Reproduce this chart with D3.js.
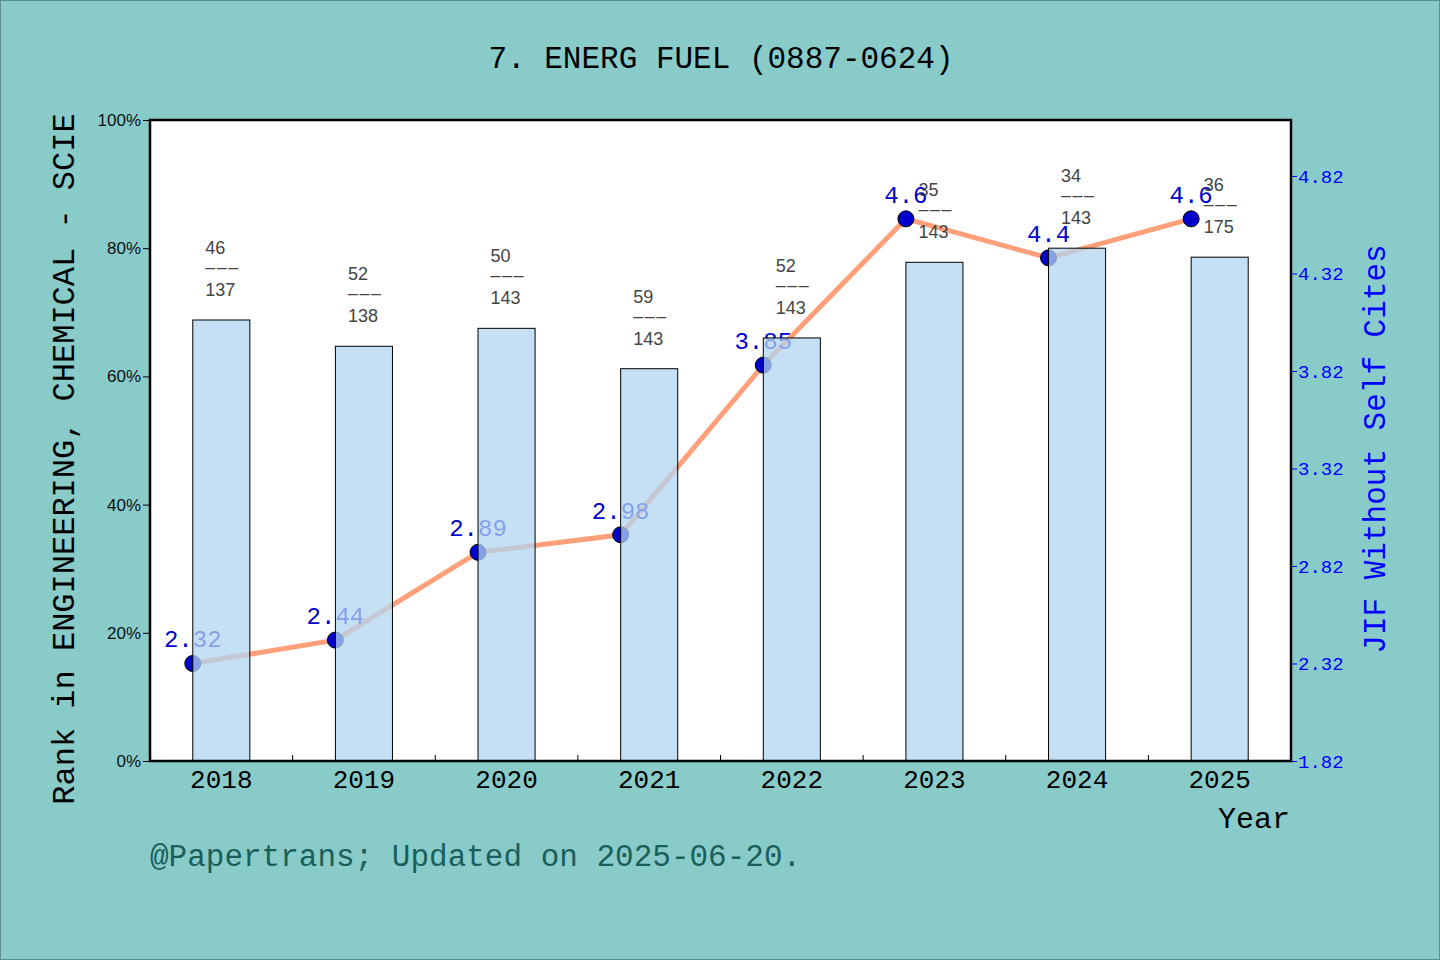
<!DOCTYPE html>
<html>
<head>
<meta charset="utf-8">
<script src="https://cdn.jsdelivr.net/npm/d3@7"></script>
<style>
  body { margin: 0; background: #88cbc9; }
  svg { display: block; }
</style>
</head>
<body>
<svg id="viz"></svg>
<script>
// ---------------------------
// Data
// ---------------------------

const years = ["2018", "2019", "2020", "2021", "2022", "2023", "2024", "2025"];
const rankPct = [68.8, 64.7, 67.5, 61.2, 66.0, 77.8, 80.0, 78.6];
const rankNum = [46, 52, 50, 59, 52, 35, 34, 36];
const rankTotal = [137, 138, 143, 143, 143, 143, 143, 175];
const jif = [2.32, 2.44, 2.89, 2.98, 3.85, 4.6, 4.4, 4.6];
const leftTicks = [0, 20, 40, 60, 80, 100];
const rightTicks = [1.82, 2.32, 2.82, 3.32, 3.82, 4.32, 4.82];

// ---------------------------
// Create SVG
// ---------------------------

const width = 1440;
const height = 960;
const mono = "'Liberation Mono', 'DejaVu Sans Mono', monospace";
const sans = "'Liberation Sans', Arial, sans-serif";

const svg = d3.select("#viz")
    .attr("width", width)
    .attr("height", height);

svg.append("rect")
    .attr("width", width).attr("height", height)
    .attr("fill", "#88cbc9")
    .attr("stroke", "#5a8f8d").attr("stroke-width", 2);

const plot = {left: 150, right: 1291, top: 120, bottom: 761};

const x = d3.scaleBand()
    .domain(years)
    .range([plot.left, plot.right])
    .paddingInner(0.6)
    .paddingOuter(0.3);

const yL = d3.scaleLinear().domain([0, 100]).range([plot.bottom, plot.top]);
const yR = d3.scaleLinear().domain([1.82, 5.107]).range([plot.bottom, plot.top]);

svg.append("rect")
    .attr("x", plot.left).attr("y", plot.top)
    .attr("width", plot.right - plot.left)
    .attr("height", plot.bottom - plot.top)
    .attr("fill", "white");

// ---------------------------
// Line + markers + labels (under bars)
// ---------------------------

const pts = years.map((d, i) => ({year: d, v: jif[i]}));

svg.append("path")
    .datum(pts)
    .attr("fill", "none")
    .attr("stroke", "#ffa07a")
    .attr("stroke-width", 5)
    .attr("d", d3.line().x(d => x(d.year)).y(d => yR(d.v)));

svg.selectAll(".dot")
    .data(pts)
    .join("circle")
    .attr("cx", d => x(d.year))
    .attr("cy", d => yR(d.v))
    .attr("r", 8)
    .attr("fill", "#0000cd")
    .attr("stroke", "black")
    .attr("stroke-width", 1);

svg.selectAll(".jifLabel")
    .data(pts)
    .join("text")
    .attr("x", d => x(d.year))
    .attr("y", d => yR(d.v) - 16)
    .attr("text-anchor", "middle")
    .attr("font-family", mono)
    .attr("font-size", 24)
    .attr("fill", "#0000cd")
    .text(d => String(d.v));

// ---------------------------
// Bars
// ---------------------------

svg.selectAll(".bar")
    .data(years)
    .join("rect")
    .attr("x", d => x(d))
    .attr("y", (d, i) => yL(rankPct[i]))
    .attr("width", x.bandwidth())
    .attr("height", (d, i) => yL(0) - yL(rankPct[i]))
    .attr("fill", "rgba(178,214,242,0.75)")
    .attr("stroke", "black")
    .attr("stroke-width", 1);

const lab = svg.selectAll(".rankLabel")
    .data(years)
    .join("g")
    .attr("transform", (d, i) => `translate(${x(d) + x.bandwidth() / 2 - 16},${yL(rankPct[i])})`)
    .attr("font-family", sans)
    .attr("font-size", 18)
    .attr("fill", "#444");

lab.append("text").attr("y", -66).text((d, i) => rankNum[i]);
lab.append("text").attr("y", -47).attr("letter-spacing", 1.5).text("–––");
lab.append("text").attr("y", -24).text((d, i) => rankTotal[i]);

// ---------------------------
// Axes
// ---------------------------

// left
const gL = svg.append("g")
    .attr("transform", `translate(${plot.left},0)`)
    .call(d3.axisLeft(yL).tickValues(leftTicks).tickFormat(d => d + "%").tickSize(7).tickPadding(2));
gL.select(".domain").remove();
gL.selectAll("text").attr("font-family", sans).attr("font-size", 17).attr("fill", "#111");

// right
const gR = svg.append("g")
    .attr("transform", `translate(${plot.right},0)`)
    .call(d3.axisRight(yR).tickValues(rightTicks).tickFormat(d3.format(".2f")).tickSize(6).tickPadding(1));
gR.select(".domain").remove();
gR.selectAll("line").attr("stroke", "#0000ff");
gR.selectAll("text").attr("font-family", mono).attr("font-size", 19).attr("fill", "#0000ff");

// bottom: boundary ticks inside, year labels at band centres
const bounds = d3.range(1, years.length).map(i => plot.left + i * x.step());
svg.selectAll(".xtick")
    .data(bounds)
    .join("line")
    .attr("x1", d => d).attr("x2", d => d)
    .attr("y1", plot.bottom).attr("y2", plot.bottom - 6)
    .attr("stroke", "black");

svg.selectAll(".xlab")
    .data(years)
    .join("text")
    .attr("x", d => x(d) + x.bandwidth() / 2)
    .attr("y", plot.bottom + 27)
    .attr("text-anchor", "middle")
    .attr("font-family", mono)
    .attr("font-size", 26)
    .attr("fill", "black")
    .text(d => d);

// frame
svg.append("rect")
    .attr("x", plot.left).attr("y", plot.top)
    .attr("width", plot.right - plot.left)
    .attr("height", plot.bottom - plot.top)
    .attr("fill", "none")
    .attr("stroke", "black")
    .attr("stroke-width", 2.5);

// ---------------------------
// Titles
// ---------------------------

svg.append("text")
    .attr("x", 721).attr("y", 68)
    .attr("text-anchor", "middle")
    .attr("font-family", mono).attr("font-size", 31)
    .attr("fill", "black")
    .text("7. ENERG FUEL (0887-0624)");

svg.append("text")
    .attr("transform", "translate(74,459) rotate(-90)")
    .attr("text-anchor", "middle")
    .attr("font-family", mono).attr("font-size", 32)
    .attr("fill", "black")
    .text("Rank in ENGINEERING, CHEMICAL - SCIE");

svg.append("text")
    .attr("transform", "translate(1385,449) rotate(-90)")
    .attr("text-anchor", "middle")
    .attr("font-family", mono).attr("font-size", 31)
    .attr("fill", "#0000ff")
    .text("JIF Without Self Cites");

svg.append("text")
    .attr("x", 1290).attr("y", 828)
    .attr("text-anchor", "end")
    .attr("font-family", mono).attr("font-size", 30)
    .attr("fill", "black")
    .text("Year");

svg.append("text")
    .attr("x", 150).attr("y", 866)
    .attr("font-family", mono).attr("font-size", 31)
    .attr("fill", "#1b5f5b")
    .text("@Papertrans; Updated on 2025-06-20.");
</script>
</body>
</html>
